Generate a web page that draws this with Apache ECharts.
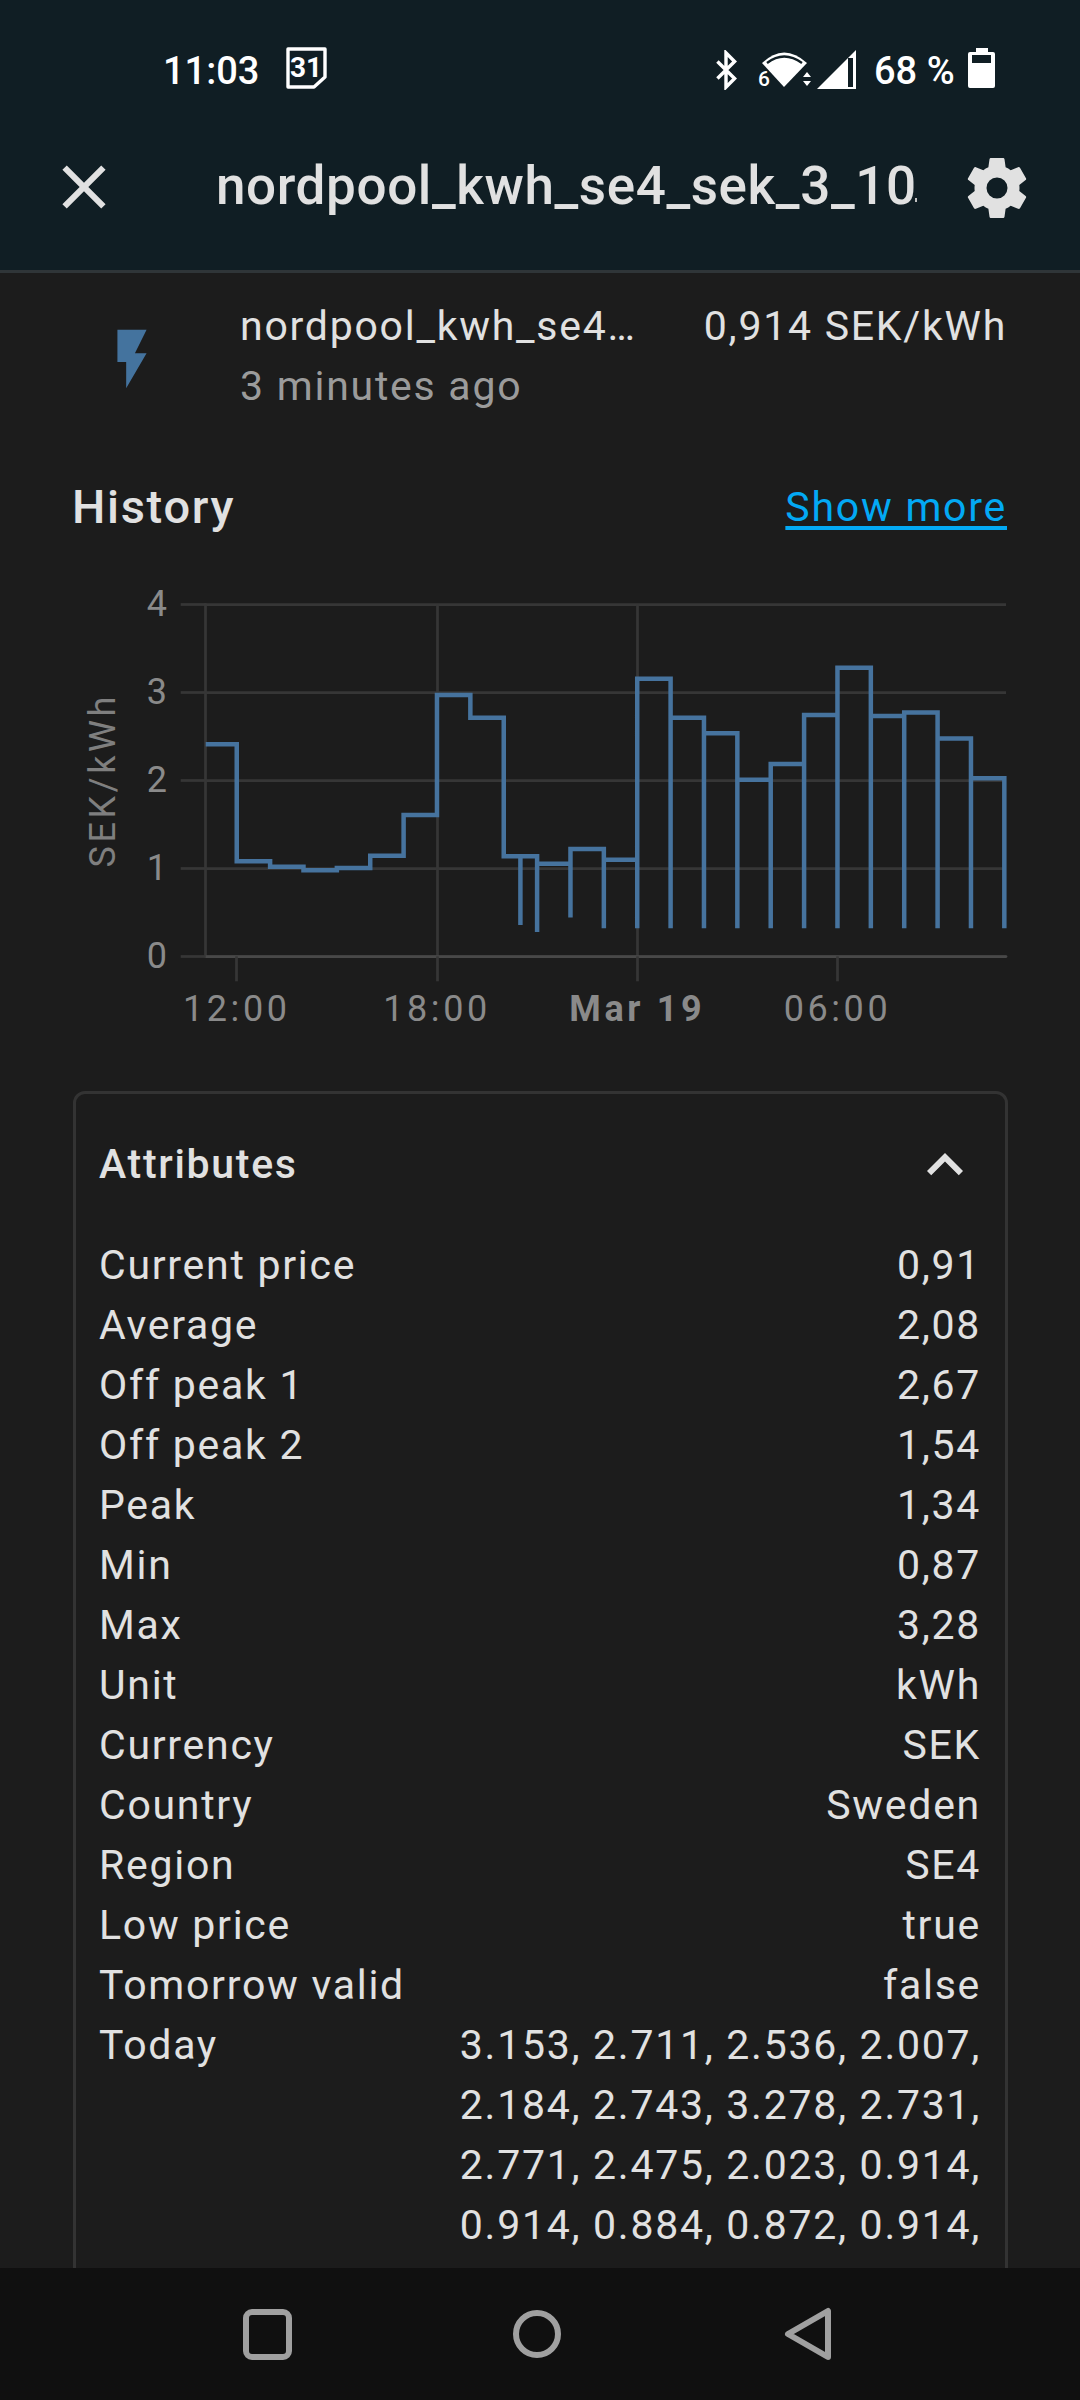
<!DOCTYPE html>
<html><head><meta charset="utf-8">
<style>
html,body{margin:0;padding:0;background:#1c1c1c;width:1080px;height:2400px;overflow:hidden;font-family:Roboto,sans-serif}
.t{position:absolute;white-space:nowrap;line-height:1;color:#e1e1e1}
svg.i{position:absolute;display:block}
#chart{position:absolute;left:0;top:560px;width:1080px;height:480px}
#chart text{letter-spacing:3.6px}
</style>
<script src="https://cdn.jsdelivr.net/npm/echarts@6/dist/echarts.min.js"></script>
</head><body>
<div id="app"></div>
<div id="chart"></div>
<script>
// ---- chart data (x = hours counted from 00:00 on Mar 18) ----
const priceHours = [
 11.07,12,13,14,15,
 16,17,18,19,20,
 20.5,20.5,21,21,
 22,22,23,23,
 24,24,25,25,
 26,26,27,27,
 28,28,29,29,
 30,30,31,31,
 32,32,33,33,
 34,34,35];
const priceValues = [
 2.41,1.08,1.018,0.977,1.003,
 1.143,1.606,2.97,2.71,1.136,
 0.356,1.136,0.276,1.052,
 0.44,1.22,0.32,1.098,
 0.32,3.153,0.32,2.711,
 0.32,2.536,0.32,2.007,
 0.32,2.184,0.32,2.743,
 0.32,3.278,0.32,2.731,
 0.32,2.771,0.32,2.475,
 0.32,2.023,0.32];
const xTickHours = [12,18,24,30];
const xTickLabels = ['12:00','18:00','{b|Mar 19}','06:00'];
const xRange = [11.07,35.05];
const yTicks = [0,4,1];
const yUnit = 'SEK/kWh';

const attrLabels = ['Current price','Average','Off peak 1','Off peak 2','Peak','Min','Max','Unit','Currency','Country','Region','Low price','Tomorrow valid','Today'];
const attrValues = ['0,91','2,08','2,67','1,54','1,34','0,87','3,28','kWh','SEK','Sweden','SE4','true','false','3.153, 2.711, 2.536, 2.007,'];
const todayMore = ['2.184, 2.743, 3.278, 2.731,','2.771, 2.475, 2.023, 0.914,','0.914, 0.884, 0.872, 0.914,'];

// ---- page chrome ----
const app = document.getElementById('app');
function box(x,y,w,h,css){const d=document.createElement('div');d.style.cssText=`position:absolute;left:${x}px;top:${y}px;width:${w}px;height:${h}px;${css||''}`;app.appendChild(d);return d;}
function txt(s,x,base,size,o){o=o||{};const d=document.createElement('div');d.className='t';d.textContent=s;
 let c=`top:${base-0.841*size}px;font-size:${size}px;`;
 c+= o.right!==undefined?`right:${1080-o.right}px;`:`left:${x}px;`;
 if(o.color)c+=`color:${o.color};`; if(o.weight)c+=`font-weight:${o.weight};`; if(o.ls)c+=`letter-spacing:${o.ls}px;`;
 if(o.css)c+=o.css; d.style.cssText=c;(o.parent||app).appendChild(d);return d;}
function icon(html,x,y,w,h,vb){app.insertAdjacentHTML('beforeend',`<svg class="i" style="left:${x}px;top:${y}px" width="${w}" height="${h}" viewBox="${vb||'0 0 24 24'}">${html}</svg>`);}

box(0,0,1080,270,'background:#101e24');
box(0,270,1080,3,'background:#2f3538');
// status bar
txt('11:03',163,84,38,{color:'#fff',weight:500});
icon('<path d="M2 2H39V30L28 40H2Z" fill="none" stroke="#fff" stroke-width="3.4" stroke-linejoin="round"/><text x="20" y="30" font-size="28" font-family="Roboto" font-weight="700" fill="#fff" text-anchor="middle">31</text>',286,47,42,43,'0 0 42 43');
icon('<path d="M3 8L15 20L9 26V2L15 8L3 20" fill="none" stroke="#fff" stroke-width="2.4"/>',712,50,28,40,'0 0 18 28');
icon('<path d="M1 13Q23 -8 46 13L23 37Z" fill="#fff"/><path d="M6 13Q23 0 41 13" fill="none" stroke="#101e24" stroke-width="2.4"/><path d="M42 27L46 22L50 27ZM42 31L46 36L50 31Z" fill="#fff"/>',761,50,52,40,'0 0 52 40');
txt('6',758,87,21,{color:'#fff',weight:500});
icon('<path d="M0 39L39 0V39Z" fill="#fff"/><rect x="31" y="8" width="5" height="29" fill="#101e24"/>',817,50,39,39,'0 0 39 39');
txt('68 %',874,84,38,{color:'#fff',weight:500});
icon('<path d="M8 0H20V4H25Q27 4 27 6V38Q27 40 25 40H2Q0 40 0 38V6Q0 4 2 4H8Z" fill="#fff"/><rect x="4" y="7" width="19" height="8" fill="#101e24"/>',968,48,27,40,'0 0 27 40');
// toolbar
icon('<path d="M19,6.41L17.59,5L12,10.59L6.41,5L5,6.41L10.59,12L5,17.59L6.41,19L12,13.41L17.59,19L19,17.59L13.41,12L19,6.41Z" fill="#e1e1e1"/>',47,150,74,74);
txt('nordpool_kwh_se4_sek_3_10',216,205,53,{weight:500,ls:0.6});
box(915,198,2,4,'background:#c0c0c0');
icon('<path d="M12,15.5A3.5,3.5 0 0,1 8.5,12A3.5,3.5 0 0,1 12,8.5A3.5,3.5 0 0,1 15.5,12A3.5,3.5 0 0,1 12,15.5M19.43,12.97C19.47,12.65 19.5,12.33 19.5,12C19.5,11.67 19.47,11.34 19.43,11L21.54,9.37C21.73,9.22 21.78,8.95 21.66,8.73L19.66,5.27C19.54,5.05 19.27,4.96 19.05,5.05L16.56,6.05C16.04,5.66 15.5,5.32 14.87,5.07L14.5,2.42C14.46,2.18 14.25,2 14,2H10C9.75,2 9.54,2.18 9.5,2.42L9.13,5.07C8.5,5.32 7.96,5.66 7.44,6.05L4.95,5.05C4.73,4.96 4.46,5.05 4.34,5.27L2.34,8.73C2.21,8.95 2.27,9.22 2.46,9.37L4.57,11C4.53,11.34 4.5,11.67 4.5,12C4.5,12.33 4.53,12.65 4.57,12.97L2.46,14.63C2.27,14.78 2.21,15.05 2.34,15.27L4.34,18.73C4.46,18.95 4.73,19.03 4.95,18.95L7.44,17.94C7.96,18.34 8.5,18.68 9.13,18.93L9.5,21.58C9.54,21.82 9.75,22 10,22H14C14.25,22 14.46,21.82 14.5,21.58L14.87,18.93C15.5,18.67 16.04,18.34 16.56,17.94L19.05,18.95C19.27,19.03 19.54,18.95 19.66,18.73L21.66,15.27C21.78,15.05 21.73,14.78 21.54,14.63L19.43,12.97Z" fill="#e1e1e1"/>',961,152,72,72);
// entity row
icon('<path d="M7,2V13H10V22L17,10H13L17,2H7Z" fill="#44739e"/>',97,324,70,70);
txt('nordpool_kwh_se4…',240,340.5,41,{ls:1.75});
txt('0,914 SEK/kWh',0,340.5,41,{right:1007,ls:1.75});
txt('3 minutes ago',240,400.5,41,{color:'#9b9b9b',ls:1.75});
// history
txt('History',72,523,47,{weight:500,ls:1.7});
txt('Show more',0,521.5,41,{right:1007,color:'#03a9f4',ls:1.75,css:'text-decoration:underline;text-underline-offset:5px;'});
// attributes
box(72.5,1091,929,1300,'border:3px solid #333;border-radius:12px;box-sizing:content-box');
txt('Attributes',99,1178,41,{weight:500,ls:1.7});
icon('<path d="M7.41,15.41L12,10.83L16.59,15.41L18,14L12,8L6,14L7.41,15.41Z" fill="#e1e1e1"/>',909,1129,72,72);
const rowBase=1279.7,rowPitch=60;
attrLabels.forEach((s,i)=>txt(s,99,rowBase+i*rowPitch,41,{ls:1.72}));
attrValues.forEach((s,i)=>txt(s,0,rowBase+i*rowPitch,41,{right:981,ls:1.72}));
todayMore.forEach((s,i)=>txt(s,0,rowBase+(14+i)*rowPitch,41,{right:981,ls:1.72}));
// nav bar
box(0,2268,1080,132,'background:#101010;z-index:5');
app.insertAdjacentHTML('beforeend',`<svg class="i" style="left:0;top:2268px;z-index:6" width="1080" height="132" viewBox="0 0 1080 132"><g fill="none" stroke="#a0a0a0" stroke-width="6" stroke-linejoin="round"><rect x="246" y="44" width="43" height="45" rx="6"/><circle cx="537" cy="66" r="21"/><path d="M828 43V89L788 66Z"/></g></svg>`);

// ---- chart ----
const gridColor='#363636', labelColor='#8a8a8a';
const chart = echarts.init(document.getElementById('chart'),null,{renderer:'svg',width:1080,height:480});
chart.setOption({
  animation:false,
  backgroundColor:'transparent',
  textStyle:{fontFamily:'Roboto'},
  grid:{left:205.7,right:74,top:44.3,bottom:83.7},
  xAxis:{
    type:'value',min:xRange[0],max:xRange[1],scale:true,
    axisLine:{show:true,onZero:false,lineStyle:{color:'#484848',width:2.75}},
    axisTick:{show:true,length:25,customValues:xTickHours,lineStyle:{color:gridColor,width:2.75}},
    splitLine:{show:true,showMinLine:false,showMaxLine:false,lineStyle:{color:gridColor,width:2.75}},
    axisLabel:{customValues:xTickHours,margin:35,fontSize:36,color:labelColor,fontFamily:'Roboto',hideOverlap:false,
      formatter:(v)=>xTickLabels[xTickHours.indexOf(v)]||'',
      rich:{b:{fontWeight:'bold',fontSize:36,color:labelColor,fontFamily:'Roboto'}}}
  },
  yAxis:{
    type:'value',min:yTicks[0],max:yTicks[1],interval:yTicks[2],
    name:yUnit,nameLocation:'middle',nameGap:85,
    nameTextStyle:{color:'#7f7f7f',fontSize:36,fontFamily:'Roboto'},
    axisLine:{show:true,lineStyle:{color:gridColor,width:2.75}},
    axisTick:{show:true,length:25,lineStyle:{color:gridColor,width:2.75}},
    splitLine:{show:true,lineStyle:{color:gridColor,width:2.75}},
    axisLabel:{margin:35,fontSize:36,color:labelColor,fontFamily:'Roboto'}
  },
  series:[{
    type:'line',step:'end',showSymbol:false,symbol:'none',
    lineStyle:{color:'#46739e',width:4.5,join:'miter',cap:'butt'},
    data:priceHours.map((t,i)=>[t,priceValues[i]])
  }]
});
</script>
</body></html>
